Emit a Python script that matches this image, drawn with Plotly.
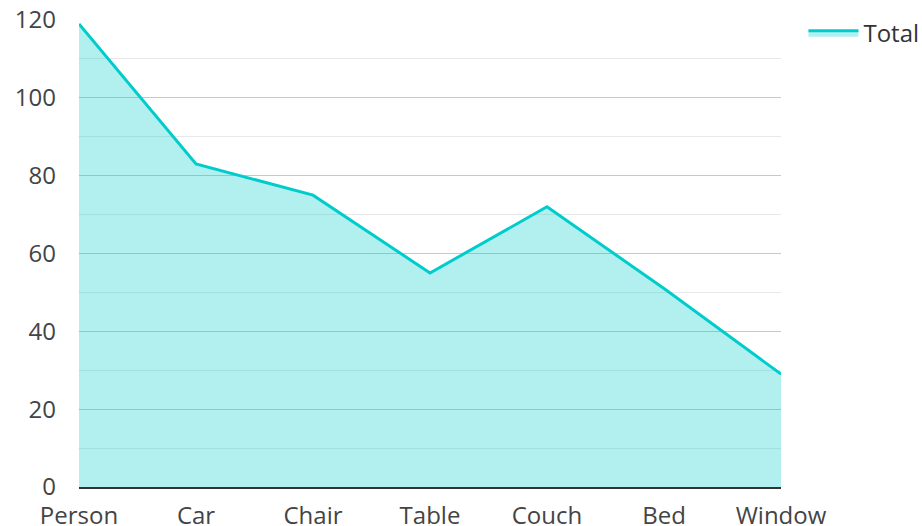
import plotly.graph_objects as go

categories = ["Person", "Car", "Chair", "Table", "Couch", "Bed", "Window"]
totals = [119, 83, 75, 55, 72, 51, 29]
y_ticks = [0, 20, 40, 60, 80, 100, 120]

fig = go.Figure()
fig.add_trace(go.Scatter(
    x=categories, y=totals, name="Total", mode="lines",
    line=dict(color="#00cccc", width=3),
    fill="tozeroy", fillcolor="rgba(0,204,204,0.3)",
))

fig.update_layout(
    width=922, height=526,
    margin=dict(l=79, r=141, t=20, b=39, autoexpand=False),
    paper_bgcolor="white", plot_bgcolor="white",
    font=dict(family="Open Sans", size=24, color="#444"),
    showlegend=True,
    legend=dict(x=1.032, y=1.02, xanchor="left", yanchor="top", itemwidth=50,
                font=dict(size=24, color="#333"), bgcolor="rgba(0,0,0,0)"),
)
fig.update_xaxes(
    range=[0, 6], showgrid=False, showline=True, linecolor="#333", linewidth=2,
    ticks="", ticklabelstandoff=6, fixedrange=True, automargin=False,
)
fig.update_yaxes(
    range=[0, 120], tickvals=y_ticks, showgrid=True, gridcolor="#c8c8c8", gridwidth=1,
    minor=dict(dtick=10, showgrid=True, gridcolor="#e8e8e8", gridwidth=1),
    zeroline=False, showline=False, ticks="", ticklabelstandoff=22, automargin=False,
)

fig.write_html(
    "out.html",
    config={"displayModeBar": False},
    post_script="document.body.style.margin='0';document.body.style.overflow='hidden';",
)
